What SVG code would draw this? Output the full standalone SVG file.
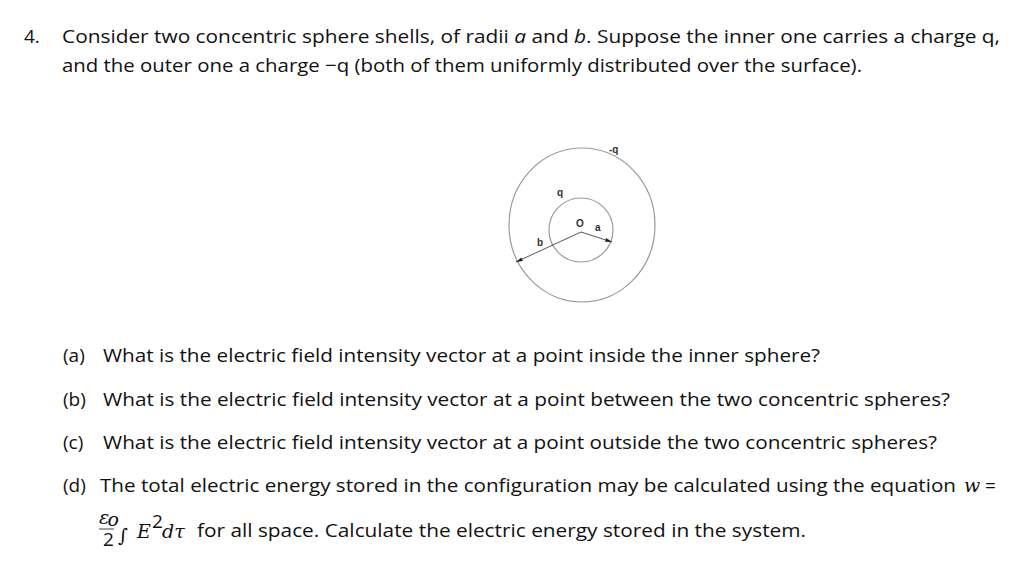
<svg xmlns="http://www.w3.org/2000/svg" width="1024" height="567" viewBox="0 0 1024 567">
<style>
.t{font-family:"Open Sans","Liberation Sans",sans-serif;font-size:19px;fill:#111}
.m{font-family:"DejaVu Serif","Liberation Serif",serif;font-style:italic;font-size:19px;fill:#111}
.l{font-family:"Liberation Sans",sans-serif;font-size:10px;font-weight:bold;fill:#333}
.c{fill:none;stroke:#999;stroke-width:1.2}
.r{stroke:#555;stroke-width:1;marker-end:url(#ah)}
</style>
<defs><marker id="ah" viewBox="0 0 10 6" refX="10" refY="3" markerWidth="8" markerHeight="4" orient="auto" markerUnits="userSpaceOnUse"><path d="M0,0L10,3L0,6z" fill="#222"/></marker></defs>
<rect width="1024" height="567" fill="#fff"/>
<g id="question">
<text class="t" x="24" y="43">4.</text>
<text class="t" x="62" y="43" textLength="938" lengthAdjust="spacingAndGlyphs">Consider two concentric sphere shells, of radii <tspan font-style="italic">a</tspan> and <tspan font-style="italic">b</tspan>.  Suppose the inner one carries a charge q,</text>
<text class="t" x="62" y="72" textLength="800" lengthAdjust="spacingAndGlyphs">and the outer one a charge −q (both of them uniformly distributed over the surface).</text>
</g>
<g id="outer-shell"><ellipse class="c" cx="582" cy="225" rx="73" ry="77"/><text class="l" x="609" y="153">-q</text></g>
<g id="inner-shell"><circle class="c" cx="581" cy="230" r="32"/><text class="l" x="557" y="196">q</text></g>
<g id="center"><text class="l" x="576" y="227" font-size="12">O</text></g>
<g id="connectors">
<line class="r" x1="581" y1="232" x2="612" y2="242"/>
<line class="r" x1="581" y1="232" x2="516" y2="262"/>
</g>
<g id="labels"><text class="l" x="595" y="231">a</text><text class="l" x="537" y="246">b</text></g>
<g id="parts">
<text class="t" x="63" y="362">(a)</text>
<text class="t" x="103" y="362" textLength="717" lengthAdjust="spacingAndGlyphs">What is the electric field intensity vector at a point inside the inner sphere?</text>
<text class="t" x="63" y="406">(b)</text>
<text class="t" x="103" y="406" textLength="847" lengthAdjust="spacingAndGlyphs">What is the electric field intensity vector at a point between the two concentric spheres?</text>
<text class="t" x="63" y="449">(c)</text>
<text class="t" x="103" y="449" textLength="834" lengthAdjust="spacingAndGlyphs">What is the electric field intensity vector at a point outside the two concentric spheres?</text>
<text class="t" x="63" y="492">(d)</text>
<text class="t" x="100" y="492" textLength="856" lengthAdjust="spacingAndGlyphs">The total electric energy stored in the configuration may be calculated using the equation</text>
<text class="m" x="964" y="492">w</text><text class="t" x="985" y="492">=</text>
<text class="m" x="99" y="524" font-size="11">ε</text>
<text class="m" x="107.5" y="526" font-size="7">o</text>
<line x1="99" y1="529" x2="114" y2="529" stroke="#111" stroke-width="0.8"/>
<text class="t" x="103" y="546" font-size="13">2</text>
<text class="m" x="118" y="542" font-size="30" font-style="normal" font-family="DejaVu Sans">∫</text>
<text class="m" x="137" y="538">E</text>
<text class="t" x="152" y="528" font-size="13">2</text>
<text class="m" x="162" y="538">dτ</text>
<text class="t" x="197" y="537" textLength="609" lengthAdjust="spacingAndGlyphs">for all space.  Calculate the electric energy stored in the system.</text>
</g>
</svg>
